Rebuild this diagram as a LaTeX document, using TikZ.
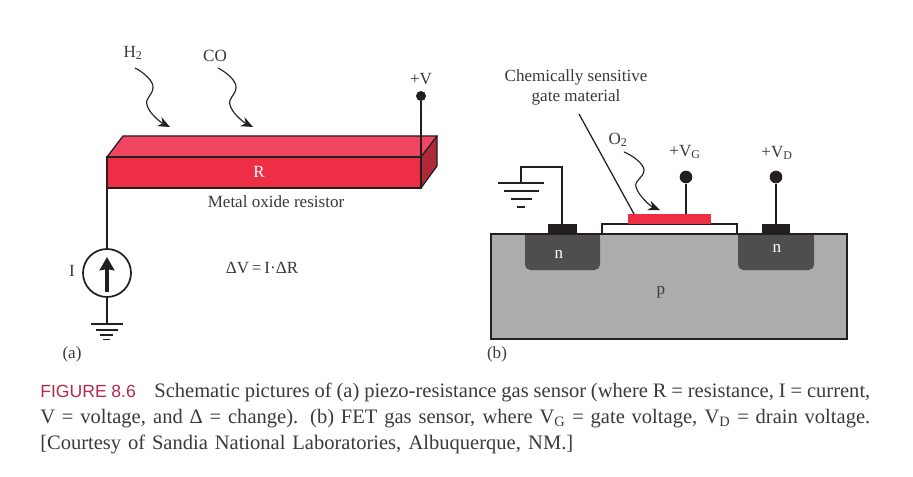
\documentclass[tikz,border=0pt]{standalone}
\usepackage{fontspec}
\setmainfont{Liberation Serif}
\newfontfamily\figfont{Liberation Sans}
\usetikzlibrary{arrows.meta}
\definecolor{redfront}{HTML}{EE2E44}
\definecolor{redtop}{HTML}{F04662}
\definecolor{redside}{HTML}{AE2A3A}
\definecolor{ndark}{HTML}{4F4D4F}
\definecolor{psub}{HTML}{ADACAC}
\definecolor{figred}{HTML}{B32A4C}
\definecolor{ink}{HTML}{231F20}
\definecolor{captext}{HTML}{3A3A3A}
\tikzset{
 x=0.75pt,y=-0.75pt,
 wire/.style={draw=ink,line width=0.95pt},
 outl/.style={draw=ink,line width=0.95pt,line join=miter},
 gas/.style={draw=ink,line width=0.85pt,-{Stealth[length=9pt,width=7.5pt]}},
 lab/.style={font=\fontsize{12.8}{15}\selectfont,text=captext,inner sep=0pt,align=center},
 dotn/.style={circle,fill=ink,inner sep=0pt,minimum size=7.5pt},
 dotb/.style={circle,fill=ink,inner sep=0pt,minimum size=9.5pt},
 capl/.style={font=\fontsize{15.4}{18}\selectfont,text=captext,inner sep=0pt,anchor=base west},
}
\newcommand{\capline}[1]{\makebox[622.5pt][s]{#1}}
\begin{document}
\begin{tikzpicture}
\useasboundingbox (0,0) rectangle (913,477);
\fill[white] (0,0) rectangle (913,477);
% ---------- (a)
\fill[redtop] (107,157)--(123,136)--(437,136)--(421,157)--cycle;
\fill[redfront] (107,157) rectangle (421,188);
\fill[redside] (421,157)--(437,136)--(437,166)--(421,188)--cycle;
\draw[outl] (107,157)--(123,136)--(437,136)--(421,157)--cycle;
\draw[outl] (107,157) rectangle (421,188);
\draw[outl] (421,188)--(437,166)--(437,136);
\node[dotn] (vplus) at (421,96) {};
\coordinate (vend) at (421,157);
\draw[wire] (vplus) -- (vend);
\node[lab] (vlab) at (421,79) {+V};
\node[lab,text=white] (rlab) at (259,172) {R};
\node[lab] (mor) at (276,202) {Metal oxide resistor};
\node[lab] (eq) at (262,268) {ΔV\,=\,I·ΔR};
\node[circle,draw=ink,line width=1.3pt,fill=white,minimum size=36pt,inner sep=0pt] (src) at (107,273) {};
\coordinate (rcorner) at (107,188);
\coordinate (gnda) at (107,324);
\draw[wire] (rcorner) -- (src);
\draw[wire] (src) -- (gnda);
\coordinate (arrb) at (107,292);
\coordinate (arrt) at (107,257);
\draw[draw=ink,line width=2.6pt,-{Stealth[length=10pt,width=11pt,inset=1pt]}] (arrb) -- (arrt);
\node[lab] (ilab) at (72,271) {I};
\draw[wire] (91,324)--(123,324) (96,330)--(118,330) (100,335)--(113,335) (103,339.5)--(110,339.5);
\node[lab] (alab) at (72,354) {(a)};
\node[lab] (h2) at (133,53) {H\textsubscript{2}};
\node[lab] (co) at (215,56) {CO};
\coordinate (h2s) at (135,68);
\coordinate (h2e) at (170,127);
\coordinate (cos) at (218,68);
\coordinate (coe) at (253,127);
\draw[gas] (h2s) .. controls (143,72) and (154,81) .. (153,88) .. controls (152,96) and (145,98) .. (147,105) .. controls (149,113) and (160,122) .. (h2e);
\draw[gas] (cos) .. controls (226,72) and (237,81) .. (236,88) .. controls (235,96) and (228,98) .. (230,105) .. controls (232,113) and (243,122) .. (coe);
% ---------- (b)
\fill[psub] (491,234) rectangle (847,339);
\fill[ndark,rounded corners=4pt] (525,234)--(525,270)--(600,270)--(600,234)--cycle;
\fill[ndark,rounded corners=4pt] (738,234)--(738,270)--(814,270)--(814,234)--cycle;
\fill[ndark] (525,234) rectangle (600,240);
\fill[ndark] (738,234) rectangle (814,240);
\draw[draw=ink,line width=1.1pt] (491,234) rectangle (847,339);
\fill[ink] (548,224) rectangle (577,234);
\fill[ink] (762,224) rectangle (790,234);
\draw[outl,fill=white] (602,224) rectangle (737,234);
\fill[redfront] (628,214) rectangle (711,224);
\coordinate (gleadS) at (579,114);
\coordinate (gleadE) at (634,214);
\draw[wire] (gleadS) -- (gleadE);
\node[lab] (chem) at (576,87) {Chemically sensitive\\gate material};
\node[lab] (o2) at (618,140) {O\textsubscript{2}};
\coordinate (o2s) at (624,152);
\coordinate (o2e) at (660,210);
\draw[gas] (o2s) .. controls (632,155) and (644,164) .. (644,170) .. controls (644,178) and (634,180) .. (636,187) .. controls (638,195) and (650,206) .. (o2e);
\node[dotb] (vg) at (686,177) {};
\node[dotb] (vd) at (776,177) {};
\coordinate (gtop) at (686,214);
\coordinate (dtop) at (776,224);
\draw[wire] (vg) -- (gtop);
\draw[wire] (vd) -- (dtop);
\node[lab] (vgl) at (685,152) {+V\textsubscript{G}};
\node[lab] (vdl) at (777,153) {+V\textsubscript{D}};
\coordinate (stop) at (562,224);
\coordinate (gndb) at (521,183);
\draw[wire] (stop) |- (521,167) -- (gndb);
\draw[wire] (498,183)--(544,183) (504,191)--(539,191) (511,199)--(532,199) (517,207)--(525,207);
\node[lab,text=white] (n1) at (559,254) {n};
\node[lab,text=white] (n2) at (777,248) {n};
\node[lab] (pl) at (661,292) {p};
\node[lab] (blab) at (497,354) {(b)};
% ---------- caption
\node[capl] (c1) at (40,397) {\capline{{\color{figred}\figfont\fontsize{13.2}{16}\selectfont FIGURE 8.6}\hspace{0.9em}Schematic pictures of (a) piezo-resistance gas sensor (where R = resistance, I = current,}};
\node[capl] (c2) at (40,423.5) {\capline{V = voltage, and Δ = change). (b) FET gas sensor, where V\textsubscript{G} = gate voltage, V\textsubscript{D} = drain voltage.}};
\node[capl] (c3) at (40,449.5) {\makebox[399.75pt][s]{[Courtesy of Sandia National Laboratories, Albuquerque, NM.]}};
\end{tikzpicture}
\end{document}
